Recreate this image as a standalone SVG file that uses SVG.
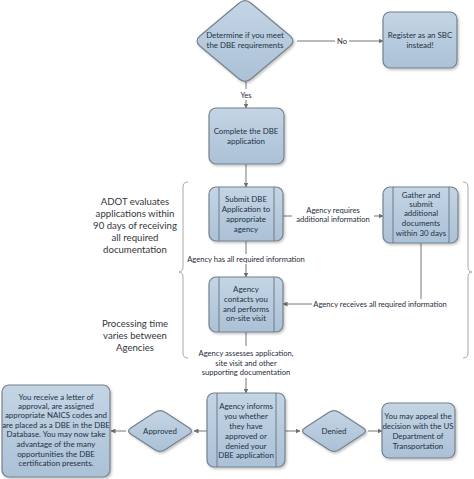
<svg xmlns="http://www.w3.org/2000/svg" width="474" height="479" viewBox="0 0 474 479">
<defs>
<linearGradient id="fillg" x1="0" y1="0" x2="0" y2="1">
<stop offset="0" stop-color="#c4d5e5"/>
<stop offset="1" stop-color="#abc1d6"/>
</linearGradient>
<filter id="sh" x="-10%" y="-10%" width="130%" height="130%">
<feDropShadow dx="1.2" dy="1.5" stdDeviation="1" flood-color="#000" flood-opacity="0.25"/>
</filter>
<marker id="arr" viewBox="0 0 10 10" refX="9" refY="5" markerWidth="5" markerHeight="5" orient="auto" markerUnits="userSpaceOnUse">
<path d="M0,0 L10,5 L0,10 z" fill="#6e6e6e"/>
</marker>
<style>
.box{fill:url(#fillg);stroke:#76818d;stroke-width:1.2;filter:url(#sh)}
.inner{stroke:#6d7a88;stroke-width:1;fill:none}
.t{font-family:Lato,"Noto Sans",sans-serif;font-size:7.9px;fill:#223243;text-anchor:middle}
.lbl{font-family:Lato,"Noto Sans",sans-serif;font-size:7.6px;fill:#1f2c3b;text-anchor:middle}
.big{font-family:Lato,"Noto Sans",sans-serif;font-size:9.6px;fill:#33373d;text-anchor:middle}
.c{stroke:#777;stroke-width:1;fill:none}
.brace{stroke:#a8a8a8;stroke-width:1;fill:none}
.bg{fill:#fff}
</style>
</defs>
<rect width="474" height="479" fill="#fff"/>

<g id="connectors">
<path class="c" d="M246,81 V108" marker-end="url(#arr)"/>
<path class="c" d="M297,41 H383" marker-end="url(#arr)"/>
<path class="c" d="M246,164 V187" marker-end="url(#arr)"/>
<path class="c" d="M283,216 H383" marker-end="url(#arr)"/>
<path class="c" d="M246,241 V277" marker-end="url(#arr)"/>
<path class="c" d="M421,243 V304 H283" marker-end="url(#arr)"/>
<path class="c" d="M246,332 V393" marker-end="url(#arr)"/>
<path class="c" d="M207,431 H194" marker-end="url(#arr)"/>
<path class="c" d="M126,431 H111" marker-end="url(#arr)"/>
<path class="c" d="M285,431 H300" marker-end="url(#arr)"/>
<path class="c" d="M368,431 H382" marker-end="url(#arr)"/>
<rect class="bg" x="238" y="89" width="16" height="11"/>
<text class="lbl" x="246" y="98">Yes</text>
<rect class="bg" x="335" y="36" width="14" height="10"/>
<text class="lbl" x="342" y="44">No</text>
<rect class="bg" x="292" y="204" width="82" height="21"/>
<text class="lbl" x="333" y="213">Agency requires</text>
<text class="lbl" x="333" y="222">additional information</text>
<rect class="bg" x="185" y="254" width="122" height="10"/>
<text class="lbl" x="246" y="262">Agency has all required information</text>
<rect class="bg" x="312" y="299" width="137" height="10"/>
<text class="lbl" x="380" y="307">Agency receives all required information</text>
<rect class="bg" x="196" y="346" width="100" height="32"/>
<text class="lbl" x="246" y="356">Agency assesses application,</text>
<text class="lbl" x="246" y="366">site visit and other</text>
<text class="lbl" x="246" y="375">supporting documentation</text>
</g>

<g id="braces">
<path class="brace" d="M188,182 Q183,182 183,187 V267 Q183,272 179,272 Q183,272 183,277 V353 Q183,358 188,358"/>
<path class="brace" d="M463,182 Q468,182 468,187 V267 Q468,272 472,272 Q468,272 468,277 V353 Q468,358 463,358"/>
</g>

<g id="note-adot">
<text class="big" x="135" y="205">ADOT evaluates</text>
<text class="big" x="135" y="217">applications within</text>
<text class="big" x="135" y="229">90 days of receiving</text>
<text class="big" x="135" y="241">all required</text>
<text class="big" x="135" y="253">documentation</text>
</g>
<g id="note-processing">
<text class="big" x="135" y="327">Processing time</text>
<text class="big" x="135" y="339">varies between</text>
<text class="big" x="135" y="351">Agencies</text>
</g>

<g id="determine">
<path class="box" d="M251.1,3.2 L289.9,35.8 Q296,41 289.9,46.2 L251.1,78.8 Q245,84 238.9,78.8 L200.1,46.2 Q194,41 200.1,35.8 L238.9,3.2 Q245,-2 251.1,3.2 Z"/>
<text class="t" x="245" y="38">Determine if you meet</text>
<text class="t" x="245" y="48">the DBE requirements</text>
</g>

<g id="register">
<rect class="box" x="383" y="12" width="74" height="56" rx="7"/>
<text class="t" x="420" y="38">Register as an SBC</text>
<text class="t" x="420" y="48">instead!</text>
</g>

<g id="complete">
<rect class="box" x="209" y="108" width="75" height="56" rx="7"/>
<text class="t" x="246" y="134">Complete the DBE</text>
<text class="t" x="246" y="144">application</text>
</g>

<g id="submit">
<rect class="box" x="209" y="187" width="74" height="54" rx="7"/>
<line class="inner" x1="219" y1="187" x2="219" y2="241"/>
<line class="inner" x1="274" y1="187" x2="274" y2="241"/>
<text class="t" x="246" y="202">Submit DBE</text>
<text class="t" x="246" y="212">Application to</text>
<text class="t" x="246" y="222">appropriate</text>
<text class="t" x="246" y="232">agency</text>
</g>

<g id="gather">
<rect class="box" x="383" y="187" width="75" height="56" rx="7"/>
<line class="inner" x1="393" y1="187" x2="393" y2="243"/>
<line class="inner" x1="449" y1="187" x2="449" y2="243"/>
<text class="t" x="421" y="198">Gather and</text>
<text class="t" x="421" y="207">submit</text>
<text class="t" x="421" y="216">additional</text>
<text class="t" x="421" y="226">documents</text>
<text class="t" x="421" y="236">within 30 days</text>
</g>

<g id="contacts">
<rect class="box" x="209" y="277" width="74" height="55" rx="7"/>
<line class="inner" x1="219" y1="277" x2="219" y2="332"/>
<line class="inner" x1="274" y1="277" x2="274" y2="332"/>
<text class="t" x="246" y="292">Agency</text>
<text class="t" x="246" y="302">contacts you</text>
<text class="t" x="246" y="312">and performs</text>
<text class="t" x="246" y="321">on-site visit</text>
</g>

<g id="informs">
<rect class="box" x="207" y="393" width="78" height="74" rx="7"/>
<line class="inner" x1="217" y1="393" x2="217" y2="467"/>
<line class="inner" x1="276" y1="393" x2="276" y2="467"/>
<text class="t" x="246" y="409">Agency informs</text>
<text class="t" x="246" y="419">you whether</text>
<text class="t" x="246" y="429">they have</text>
<text class="t" x="246" y="439">approved or</text>
<text class="t" x="246" y="449">denied your</text>
<text class="t" x="246" y="458">DBE application</text>
</g>

<g id="approved">
<path class="box" d="M165.1,412.3 L188.9,427.7 Q194,431 188.9,434.3 L165.1,449.7 Q160,453 154.9,449.7 L131.1,434.3 Q126,431 131.1,427.7 L154.9,412.3 Q160,409 165.1,412.3 Z"/>
<text class="t" x="160" y="434">Approved</text>
</g>

<g id="denied">
<path class="box" d="M339.1,412.3 L362.9,427.7 Q368,431 362.9,434.3 L339.1,449.7 Q334,453 328.9,449.7 L305.1,434.3 Q300,431 305.1,427.7 L328.9,412.3 Q334,409 339.1,412.3 Z"/>
<text class="t" x="334" y="434">Denied</text>
</g>

<g id="result">
<rect class="box" x="2" y="385" width="108" height="92" rx="7"/>
<text class="t" x="56" y="400">You receive a letter of</text>
<text class="t" x="56" y="409">approval, are assigned</text>
<text class="t" x="56" y="418">appropriate  NAICS codes and</text>
<text class="t" x="56" y="428">are placed as a DBE in the DBE</text>
<text class="t" x="56" y="437">Database. You may now take</text>
<text class="t" x="56" y="447">advantage of the many</text>
<text class="t" x="56" y="457">opportunities the DBE</text>
<text class="t" x="56" y="466">certification presents.</text>
</g>

<g id="appeal">
<rect class="box" x="382" y="403" width="73" height="55" rx="7"/>
<text class="t" x="418" y="419">You may appeal the</text>
<text class="t" x="418" y="429">decision with the US</text>
<text class="t" x="418" y="439">Department of</text>
<text class="t" x="418" y="449">Transportation</text>
</g>
</svg>
